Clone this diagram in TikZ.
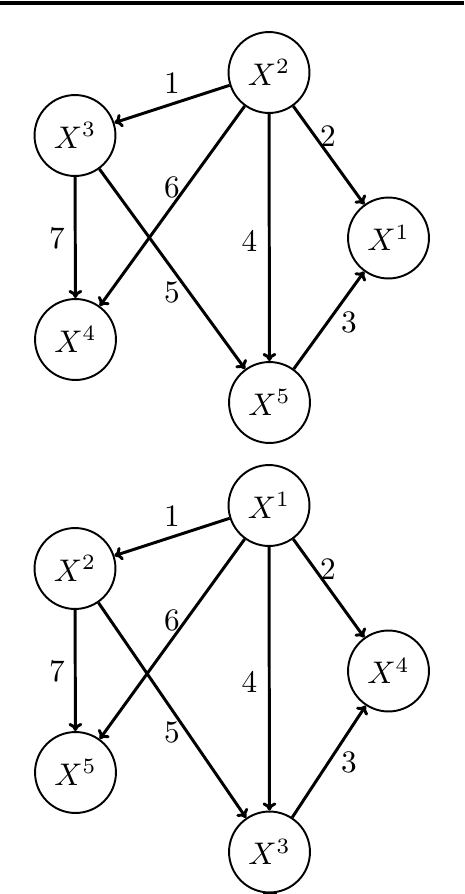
\documentclass[tikz,border=0pt]{standalone}
\usetikzlibrary{arrows.meta}
\begin{document}
\begin{tikzpicture}[x=0.32pt,y=-0.32pt,
  var/.style={circle,draw,line width=0.62pt,minimum size=25.9pt,inner sep=0pt},
  arc/.style={-{To[length=2.6pt,width=4.4pt]},line width=0.95pt},
  lbl/.style={inner sep=0pt}]
\useasboundingbox (0,0) rectangle (464,894);
\draw[line width=1.3pt] (0,2.7) -- (464,2.7);
% top graph
\node[var] (a2) at (269,72.5) {$X^2$};
\node[var] (a3) at (75,135.5) {$X^3$};
\node[var] (a1) at (388.5,238) {$X^1$};
\node[var] (a4) at (75.5,339.5) {$X^4$};
\node[var] (a5) at (269.5,402.5) {$X^5$};
\draw[arc] (a2) -- (a3);
\draw[arc] (a2) -- (a1);
\draw[arc] (a5) -- (a1);
\draw[arc] (a2) -- (a5);
\draw[arc] (a3) -- (a5);
\draw[arc] (a2) -- (a4);
\draw[arc] (a3) -- (a4);
\node[lbl] (la1) at (172,83) {1};
\node[lbl] (la2) at (328,136) {2};
\node[lbl] (la3) at (349,322) {3};
\node[lbl] (la4) at (249.5,241) {4};
\node[lbl] (la5) at (172,292) {5};
\node[lbl] (la6) at (172,187) {6};
\node[lbl] (la7) at (57,238) {7};
% bottom graph
\node[var] (b1) at (269,505.5) {$X^1$};
\node[var] (b2) at (75,568.5) {$X^2$};
\node[var] (b4) at (388.5,671) {$X^4$};
\node[var] (b5) at (75.5,772.5) {$X^5$};
\node[var] (b3) at (269.5,852) {$X^3$};
\draw[arc] (b1) -- (b2);
\draw[arc] (b1) -- (b4);
\draw[arc] (b3) -- (b4);
\draw[arc] (b1) -- (b3);
\draw[arc] (b2) -- (b3);
\draw[arc] (b1) -- (b5);
\draw[arc] (b2) -- (b5);
\node[lbl] (lb1) at (172,516) {1};
\node[lbl] (lb2) at (328,569) {2};
\node[lbl] (lb3) at (349,762) {3};
\node[lbl] (lb4) at (249.5,682) {4};
\node[lbl] (lb5) at (172,732) {5};
\node[lbl] (lb6) at (172,620) {6};
\node[lbl] (lb7) at (57,671) {7};
\coordinate (cut) at (269.5,894);
\fill (262.5,892) rectangle (276.5,894);
\end{tikzpicture}
\end{document}
